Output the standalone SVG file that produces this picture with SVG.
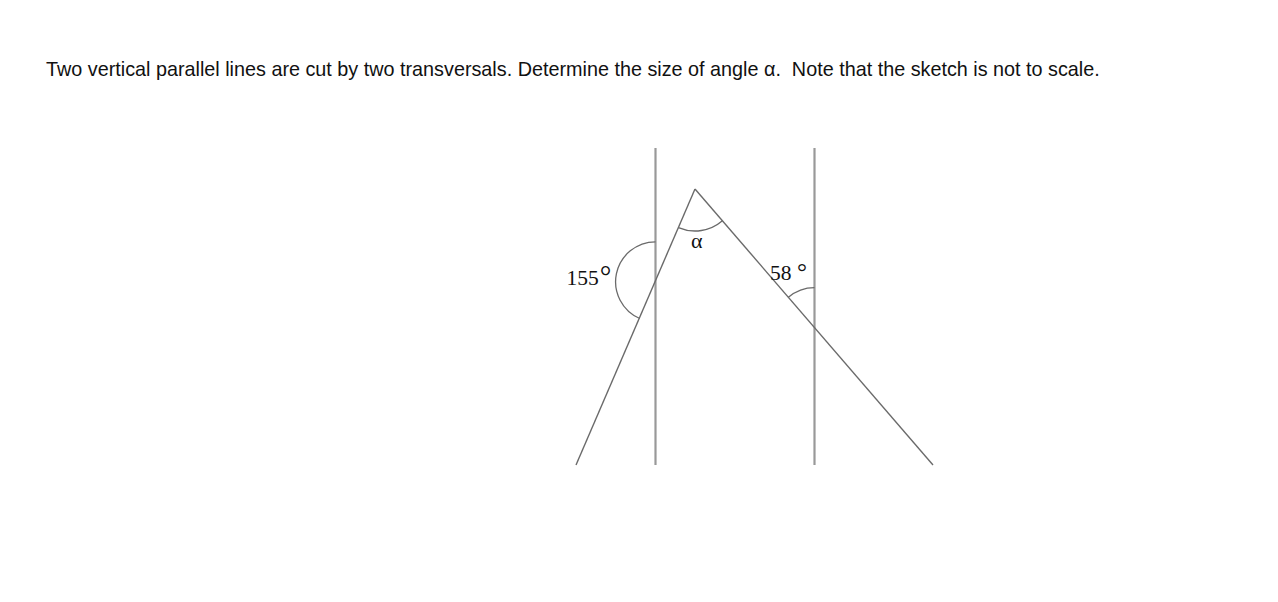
<svg xmlns="http://www.w3.org/2000/svg" width="1278" height="602" viewBox="0 0 1278 602">
<style>
.title{font-family:"Liberation Sans",Arial,sans-serif;font-size:19.8px;fill:#111;white-space:pre}
.lbl{font-family:"Liberation Serif","Times New Roman",serif;font-size:21.5px;fill:#111}
.deg{font-size:29px}
.par{stroke:#999;stroke-width:2.2;fill:none}
.tr{stroke:#6a6a6a;stroke-width:1.4;fill:none}
.arc{stroke:#6a6a6a;stroke-width:1.3;fill:none}
</style>
<rect width="1278" height="602" fill="#fff"/>
<text class="title" x="46" y="76" xml:space="preserve">Two vertical parallel lines are cut by two transversals. Determine the size of angle α.  Note that the sketch is not to scale.</text>
<g id="connectors">
<line class="par" x1="655.5" y1="148" x2="655.5" y2="465"/>
<line class="par" x1="814.5" y1="148" x2="814.5" y2="465"/>
<line class="tr" x1="695" y1="189" x2="576" y2="465"/>
<line class="tr" x1="695" y1="189" x2="933" y2="465"/>
</g>
<g id="angle155">
<path class="arc" d="M655.5,241.8 A40,40 0 0 0 639.7,318.5"/>
<text class="lbl" x="566.5" y="284.5">155<tspan class="deg" dx="1" dy="1">°</tspan></text>
</g>
<g id="angleAlpha">
<path class="arc" d="M678.4,227.6 A42,42 0 0 0 722.4,220.8"/>
<text class="lbl" x="691" y="248" style="font-size:22px">α</text>
</g>
<g id="angle58">
<path class="arc" d="M814.5,287.6 A40,40 0 0 0 788.4,297.3"/>
<text class="lbl" x="770" y="279.5">58 <tspan style="font-size:25px">°</tspan></text>
</g>
</svg>
